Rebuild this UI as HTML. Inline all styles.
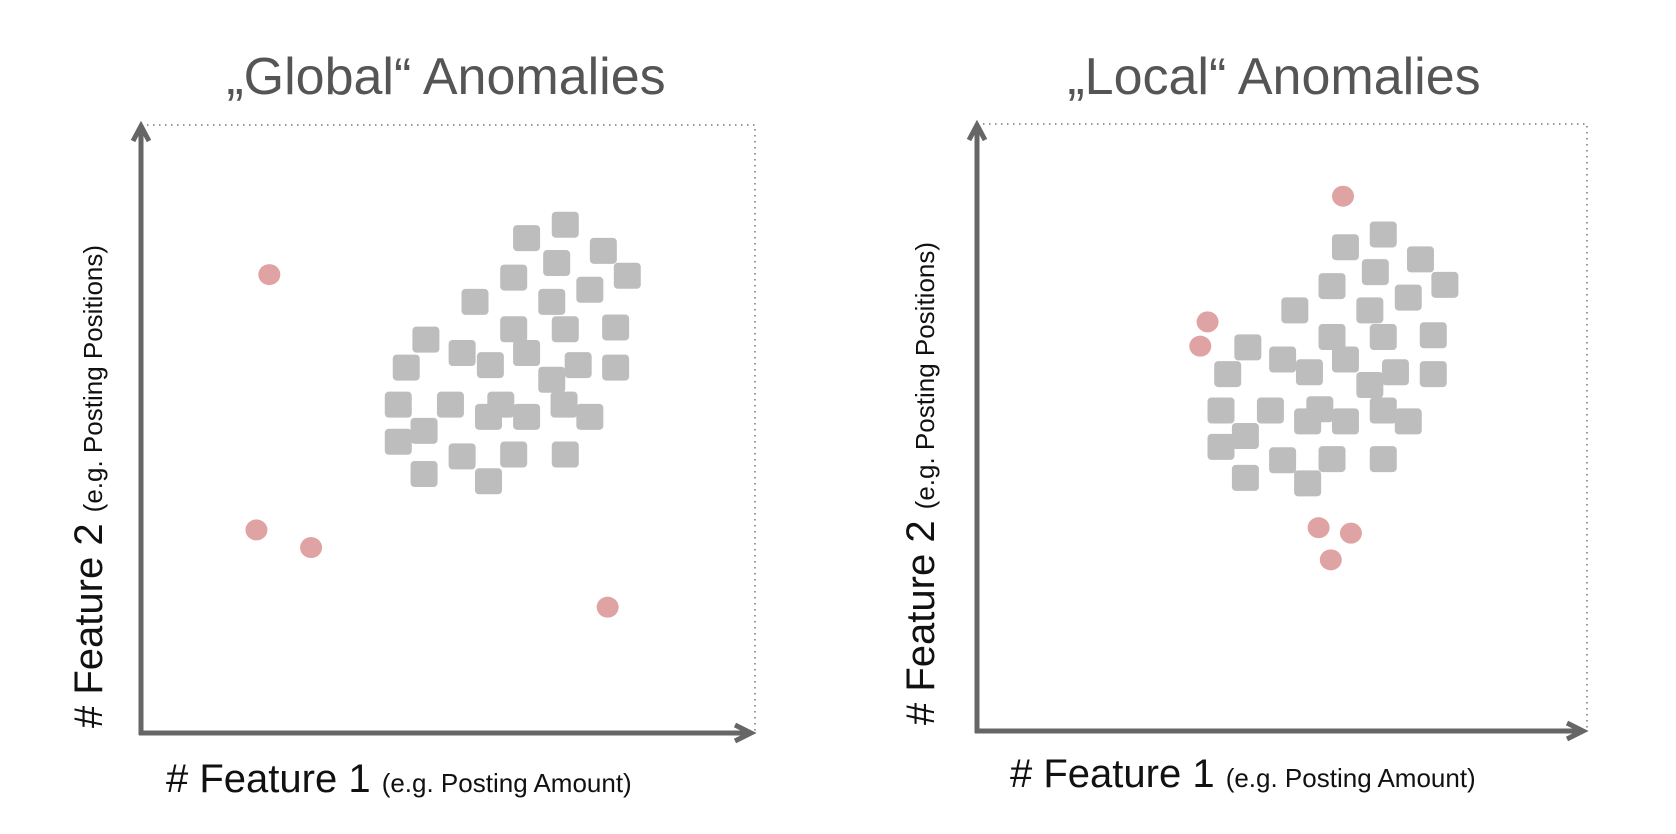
<!DOCTYPE html>
<html><head><meta charset="utf-8"><style>
html,body{margin:0;padding:0;background:#fff;}
svg{display:block;font-family:"Liberation Sans",sans-serif;}
</style></head>
<body>
<svg id="chart" width="1676" height="834" viewBox="0 0 1676 834" xmlns="http://www.w3.org/2000/svg">
<text x="446" y="94" text-anchor="middle" font-size="52" fill="#555">„Global“ Anomalies</text>
<text x="1274" y="94" text-anchor="middle" font-size="52" fill="#555">„Local“ Anomalies</text>
<g id="p1"></g>
<g id="p2"></g>
</svg>
<script>
// Global anomalies data (axis units 0..100)
const globalNormalX = [69.1,62.8,75.3,67.7,79.2,60.7,73.1,54.4,66.9,60.7,69.1,77.3,46.4,52.3,62.8,56.9,43.2,71.2,77.3,66.9,41.9,50.4,58.6,68.9,56.6,62.8,73.1,46.1,41.9,52.3,60.7,69.1,46.1,56.6];
const globalNormalY = [83.6,81.4,79.3,77.3,75.2,74.9,72.9,70.9,70.9,66.4,66.4,66.7,64.7,62.5,62.5,60.5,60.1,60.5,60.1,58.1,54.0,54.0,54.0,54.0,52.0,52.0,52.0,49.7,47.9,45.5,45.8,45.8,42.6,41.4];
const globalAnomX = [20.9,18.8,27.7,76.0];
const globalAnomY = [75.4,33.4,30.5,20.7];
// Local anomalies data
const localNormalX = [66.6,60.4,72.7,65.3,76.7,58.2,70.7,52.1,64.4,58.2,66.6,74.8,44.4,50.1,60.4,54.5,41.1,68.6,74.8,64.4,40.0,48.1,56.2,66.6,54.2,60.4,70.7,44.0,40.0,50.1,58.2,66.6,44.0,54.2];
const localNormalY = [81.8,79.7,77.7,75.6,73.5,73.3,71.4,69.3,69.3,64.9,64.9,65.2,63.2,61.2,61.2,59.1,58.8,59.1,58.8,57.0,52.8,52.8,53.0,52.8,51.0,51.0,51.0,48.6,46.8,44.6,44.8,44.8,41.7,40.8];
const localAnomX = [60.0,37.8,36.6,56.0,61.3,58.0];
const localAnomY = [88.1,67.4,63.4,33.5,32.6,28.2];

const NS="http://www.w3.org/2000/svg";
function mk(parent,tag,attrs){const e=document.createElementNS(NS,tag);for(const k in attrs)e.setAttribute(k,attrs[k]);parent.appendChild(e);return e;}

function panel(g,o,nx,ny,ax,ay,prefix){
  const x=v=>o.x0+v/100*(o.x1-o.x0);
  const y=v=>o.y0-v/100*(o.y0-o.y1);
  // dotted frame
  let d1=mk(g,'path',{d:`M${o.x0} ${o.y1} H${o.x1} V${o.y0}`,fill:'none',stroke:'#777','stroke-width':1.5,'stroke-dasharray':'1.5 4.5'});
  
  
  // y axis
  let ya=mk(g,'path',{d:`M${o.x0} ${o.y0+2} V${o.y1+4} M${o.x0-8} ${o.y1+16} L${o.x0} ${o.y1+1} L${o.x0+8} ${o.y1+16}`,fill:'none',stroke:'#666','stroke-width':5,'stroke-linejoin':'miter'});
  
  
  let xa=mk(g,'path',{d:`M${o.x0-2} ${o.y0} H${o.x1-6} M${o.x1-20} ${o.y0-8} L${o.x1-4} ${o.y0} L${o.x1-20} ${o.y0+8}`,fill:'none',stroke:'#666','stroke-width':5});
  
  
  for(let i=0;i<nx.length;i++){
    const r=mk(g,'rect',{x:x(nx[i])-13.5,y:y(ny[i])-13,width:27,height:26,rx:4,fill:'#bdbdbd'});
    
    
  }
  for(let i=0;i<ax.length;i++){
    const c=mk(g,'ellipse',{cx:x(ax[i]),cy:y(ay[i]),rx:11,ry:10.5,fill:'#e0a3a3'});
    
    
  }
  const xl=mk(g,'text',{x:o.xlx,y:o.xly,'font-size':40,fill:'#111'});
  
  
  xl.innerHTML='# Feature 1 <tspan font-size="26">(e.g. Posting Amount)</tspan>';
  const yl=mk(g,'text',{x:0,y:0,'font-size':40,fill:'#111',transform:`translate(${o.ylx},${o.yly}) rotate(-90)`});
  
  
  yl.innerHTML='# Feature 2 <tspan font-size="26">(e.g. Posting Positions)</tspan>';
}
panel(document.getElementById('p1'),{x0:141,x1:755,y0:733,y1:125,xlx:166,xly:792,ylx:102,yly:728},globalNormalX,globalNormalY,globalAnomX,globalAnomY,'global');
panel(document.getElementById('p2'),{x0:977,x1:1587,y0:731,y1:124,xlx:1010,xly:787,ylx:934,yly:725},localNormalX,localNormalY,localAnomX,localAnomY,'local');
</script>
</body></html>
